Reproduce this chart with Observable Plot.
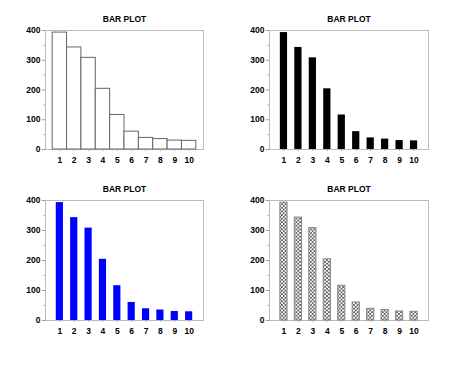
<!DOCTYPE html>
<html>
<head>
<meta charset="utf-8">
<script src="https://cdn.jsdelivr.net/npm/d3@7"></script>
<script src="https://cdn.jsdelivr.net/npm/@observablehq/plot@0.6"></script>
<style>
  html, body { margin: 0; padding: 0; background: white; }
  #c { position: relative; width: 474px; height: 366px; background: white; overflow: hidden; }
  #c svg { position: absolute; }
</style>
</head>
<body>
<div id="c"></div>
<script>
const categories = [1, 2, 3, 4, 5, 6, 7, 8, 9, 10];
const values = [393, 343, 308, 204, 116, 60, 39, 35, 30, 29];
const yTicks = [0, 100, 200, 300, 400];
const yMinorTicks = [50, 150, 250, 350];
const titles = ["BAR PLOT", "BAR PLOT", "BAR PLOT", "BAR PLOT"];

const data = categories.map((c, i) => ({cat: c, value: values[i]}));
const container = document.getElementById("c");
const FONT = "'Liberation Sans', Arial, Helvetica, sans-serif";

function panel(cfg) {
  const hw = cfg.halfWidth;
  const svg = Plot.plot({
    width: cfg.width,
    height: cfg.height,
    marginLeft: cfg.ml,
    marginRight: cfg.mr,
    marginTop: cfg.mt,
    marginBottom: cfg.mb,
    x: {domain: [0, 11]},
    y: {domain: [0, 400]},
    style: {fontFamily: FONT, fontSize: "8.5px", fontWeight: "bold", color: "black", background: "white"},
    marks: [
      Plot.frame({stroke: "#bbb"}),
      Plot.rectY(data, {
        x1: d => d.cat - hw,
        x2: d => d.cat + hw,
        y: "value",
        fill: cfg.fill,
        stroke: cfg.stroke,
        strokeWidth: 1
      }),
      Plot.axisY({ticks: yTicks, tickSize: 3, tickPadding: 2, stroke: "#999", fill: "black", label: null, fontWeight: "bold"}),
      Plot.axisY({ticks: yMinorTicks, tickSize: 1.5, text: null, stroke: "#aaa", label: null}),
      Plot.axisX({ticks: categories, tickSize: 2, tickPadding: 5, stroke: "#aaa", fill: "black", label: null, fontWeight: "bold"}),
      Plot.text([cfg.title], {frameAnchor: "top", dy: -15, text: d => d, fontSize: 8.5, fontWeight: "bold", fill: "black"})
    ]
  });
  svg.style.left = cfg.left + "px";
  svg.style.top = cfg.top + "px";
  if (cfg.defs) cfg.defs(svg);
  container.appendChild(svg);
}

panel({left: 0, top: 0, width: 237, height: 170, ml: 45, mr: 34, mt: 30, mb: 21,
  halfWidth: 0.5, fill: "white", stroke: "#666", title: titles[0]});
panel({left: 237, top: 0, width: 237, height: 170, ml: 32, mr: 46, mt: 30, mb: 21,
  halfWidth: 0.25, fill: "black", stroke: "none", title: titles[1]});
panel({left: 0, top: 170, width: 237, height: 183, ml: 45, mr: 34, mt: 30, mb: 33,
  halfWidth: 0.25, fill: "#0000ff", stroke: "none", title: titles[2]});
panel({left: 237, top: 170, width: 237, height: 183, ml: 32, mr: 46, mt: 30, mb: 33,
  halfWidth: 0.25, fill: "url(#hatch)", stroke: "#888", title: titles[3],
  defs: svg => {
    const defs = d3.select(svg).insert("defs", ":first-child");
    const p = defs.append("pattern")
      .attr("id", "hatch")
      .attr("patternUnits", "userSpaceOnUse")
      .attr("width", 3.6).attr("height", 3.6);
    p.append("rect").attr("width", 3.6).attr("height", 3.6).attr("fill", "white");
    p.append("path").attr("d", "M0,0L3.6,3.6M3.6,0L0,3.6")
      .attr("stroke", "#333").attr("stroke-width", 0.7).attr("fill", "none");
  }});
</script>
</body>
</html>
